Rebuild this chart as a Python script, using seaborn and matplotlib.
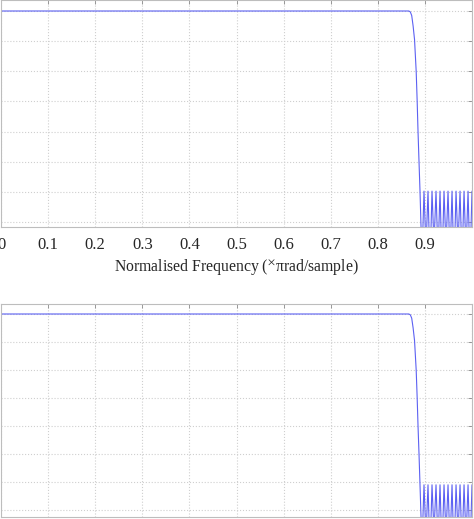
import seaborn as sns
import matplotlib
matplotlib.use("Agg")
import matplotlib.pyplot as plt
import numpy as np
import pandas as pd

# magnitude response (dB)
trans_freq = [0.0, 0.866, 0.869, 0.872, 0.875, 0.878, 0.8815, 0.8836, 0.8854, 0.8875]
trans_db = [0.0, 0.0, -0.6, -3.0, -10.0, -19.0, -40.0, -60.0, -80.0, -100.0]

stop_freq = [0.8896, 0.8938, 0.8981, 0.9023, 0.9066, 0.9108, 0.9151, 0.9193, 0.9236,
             0.9278, 0.9321, 0.9363, 0.9406, 0.9448, 0.9491, 0.9533, 0.9576, 0.9618,
             0.9661, 0.9703, 0.9746, 0.9788, 0.9831, 0.9873, 0.9916, 0.9958, 1.0]
stop_db_top = [-119.5, -165.0, -119.5, -158.0, -119.5, -170.0, -119.5, -155.0, -119.5,
               -162.0, -119.5, -168.0, -119.5, -157.0, -119.5, -164.0, -119.5, -171.0,
               -119.5, -156.0, -119.5, -166.0, -119.5, -160.0, -119.5, -169.0, -119.5]
stop_db_bot = [-122.0, -166.0, -122.0, -159.0, -122.0, -171.0, -122.0, -156.0, -122.0,
               -163.0, -122.0, -169.0, -122.0, -158.0, -122.0, -165.0, -122.0, -172.0,
               -122.0, -157.0, -122.0, -167.0, -122.0, -161.0, -122.0, -170.0, -122.0]

x_ticks = [0.0, 0.1, 0.2, 0.3, 0.4, 0.5, 0.6, 0.7, 0.8, 0.9, 1.0]
x_labels = ["0", "0.1", "0.2", "0.3", "0.4", "0.5", "0.6", "0.7", "0.8", "0.9", ""]
y_ticks = [-140, -120, -100, -80, -60, -40, -20, 0]

sns.set_style("white")
plt.rcParams['font.family'] = ['Liberation Serif', 'DejaVu Serif']
plt.rcParams['mathtext.fontset'] = 'stix'

top = pd.DataFrame({"f": trans_freq + stop_freq, "db": trans_db + stop_db_top})
bot = pd.DataFrame({"f": trans_freq + stop_freq, "db": trans_db + stop_db_bot})

W, H = 474, 519
fig = plt.figure(figsize=(W / 100, H / 100), dpi=100)
ax1 = fig.add_axes([1 / W, 1 - 227 / H, 471 / W, 227 / H])
ax2 = fig.add_axes([1 / W, 1 - 517 / H, 471 / W, 213 / H])

line_col = (0.36, 0.38, 0.95)
for ax, df, ylim in [(ax1, top, (-143.3, 7.3)), (ax2, bot, (-145.0, 7.14))]:
    sns.lineplot(data=df, x="f", y="db", ax=ax, color=line_col, lw=0.8,
                 estimator=None, sort=False)
    ax.set_xlim(0, 1)
    ax.set_ylim(*ylim)
    ax.set_xticks(x_ticks)
    ax.set_yticks(y_ticks)
    ax.grid(True, ls=':', color='#cfcfcf', lw=0.8)
    ax.tick_params(direction='in', length=3, width=0.6, color='#8a8a8a',
                   top=True, right=True, labelsize=12, pad=7)
    for s in ax.spines.values():
        s.set_color('#bdbdbd')
        s.set_linewidth(0.8)
    ax.set_ylabel("")
    ax.set_xlabel("")

ax1.set_xticklabels(x_labels)
ax1.set_xlabel("Normalised Frequency ($^{\\times}$πrad/sample)", fontsize=11.3, labelpad=3)
ax2.set_xticklabels([])

fig.savefig("out.png", dpi=100)
